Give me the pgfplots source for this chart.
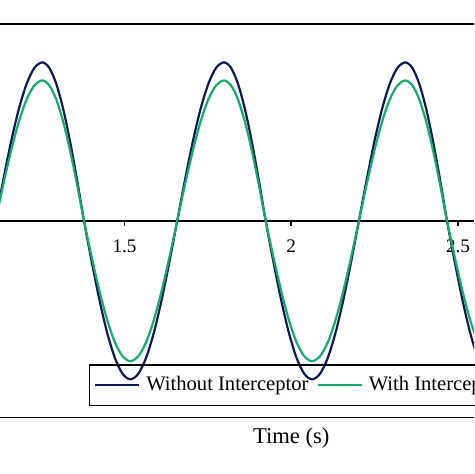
\documentclass[border=0pt]{standalone}
\usepackage{pgfplots}
\pgfplotsset{compat=1.18}
\usepackage{pgfplotstable}
\usepackage{fontspec}
\setmainfont{Liberation Serif}
\definecolor{navy}{RGB}{13,27,82}
\definecolor{mgreen}{RGB}{22,170,108}
\pgfplotstableread{
t b g
0.97286 -0.8050 -0.7130
0.99625 -0.7776 -0.6887
1.01964 -0.6971 -0.6175
1.04303 -0.5692 -0.5042
1.06641 -0.4025 -0.3565
1.08980 -0.2083 -0.1845
1.11319 0.0000 0.0000
1.13658 0.2083 0.1845
1.15997 0.4025 0.3565
1.18336 0.5692 0.5042
1.20675 0.6971 0.6175
1.23013 0.7776 0.6887
1.25352 0.8050 0.7130
1.27436 0.7776 0.6887
1.29520 0.6971 0.6175
1.31604 0.5692 0.5042
1.33688 0.4025 0.3565
1.35772 0.2083 0.1845
1.37856 0.0000 0.0000
1.40175 -0.2083 -0.1845
1.42494 -0.4025 -0.3565
1.44813 -0.5692 -0.5042
1.47131 -0.6971 -0.6175
1.49450 -0.7776 -0.6887
1.51769 -0.8050 -0.7130
1.54108 -0.7776 -0.6887
1.56447 -0.6971 -0.6175
1.58786 -0.5692 -0.5042
1.61124 -0.4025 -0.3565
1.63463 -0.2083 -0.1845
1.65802 0.0000 0.0000
1.68141 0.2083 0.1845
1.70480 0.4025 0.3565
1.72819 0.5692 0.5042
1.75157 0.6971 0.6175
1.77496 0.7776 0.6887
1.79835 0.8050 0.7130
1.81919 0.7776 0.6887
1.84003 0.6971 0.6175
1.86087 0.5692 0.5042
1.88171 0.4025 0.3565
1.90255 0.2083 0.1845
1.92339 0.0000 0.0000
1.94658 -0.2083 -0.1845
1.96977 -0.4025 -0.3565
1.99295 -0.5692 -0.5042
2.01614 -0.6971 -0.6175
2.03933 -0.7776 -0.6887
2.06252 -0.8050 -0.7130
2.08591 -0.7776 -0.6887
2.10930 -0.6971 -0.6175
2.13268 -0.5692 -0.5042
2.15607 -0.4025 -0.3565
2.17946 -0.2083 -0.1845
2.20285 0.0000 0.0000
2.22604 0.2083 0.1845
2.24923 0.4025 0.3565
2.27241 0.5692 0.5042
2.29560 0.6971 0.6175
2.31879 0.7776 0.6887
2.34198 0.8050 0.7130
2.36282 0.7776 0.6887
2.38366 0.6971 0.6175
2.40450 0.5692 0.5042
2.42534 0.4025 0.3565
2.44618 0.2083 0.1845
2.46702 0.0000 0.0000
2.49021 -0.2083 -0.1845
2.51339 -0.4025 -0.3565
2.53658 -0.5692 -0.5042
2.55977 -0.6971 -0.6175
2.58296 -0.7776 -0.6887
2.60615 -0.8050 -0.7130
}\data
\begin{document}
\begin{tikzpicture}
\path[use as bounding box] (0pt,0pt) rectangle (237pt,237pt);
\begin{axis}[
  name=ax,
  at={(0pt,28.15pt)}, anchor=south west,
  scale only axis, width=237pt, height=196.85pt,
  xmin=1.126687, xmax=2.547976, ymin=-1, ymax=1,
  axis x line=middle, axis y line=none,
  axis line style={-, line width=0.8pt, black},
  xtick={1.5,2,2.5}, xticklabels={1.5,2,2.5},
  tick align=outside, major tick length=2.5pt,
  tick style={line width=0.8pt, black},
  xticklabel style={font=\fontsize{9.6}{11}\selectfont, anchor=north, inner sep=0pt, yshift=-7pt},
  /pgf/number format/assume math mode=true,
  xlabel={Time (s)},
  xlabel style={at={(axis description cs:0.6145,0)}, anchor=base, yshift=-13pt, font=\fontsize{11.3}{13}\selectfont, inner sep=0pt},
  legend columns=2,
  legend style={at={(axis description cs:0.18692,0.13564)}, anchor=north west,
    draw=black, line width=0.8pt, fill=none, inner xsep=2.3pt, inner ysep=4pt,
    nodes={inner sep=1.8pt}, font=\fontsize{10.3}{12}\selectfont,
    /tikz/every even column/.append style={column sep=2.2pt}},
  legend image code/.code={\draw[#1, line width=1pt] (0pt,0pt) -- (22pt,0pt); \path (23.3pt,0pt);},
]
\addplot[navy, line width=1.1pt, smooth] table[x=t, y=b] {\data};
\addlegendentry{Without Interceptor}
\addplot[mgreen, line width=1.1pt, smooth] table[x=t, y=g] {\data};
\addlegendentry{With Interceptor}
\end{axis}
\draw[line width=0.8pt] (ax.south west) -- (ax.south east);
\draw[line width=0.8pt] (ax.north west) -- (ax.north east);
\end{tikzpicture}
\end{document}
